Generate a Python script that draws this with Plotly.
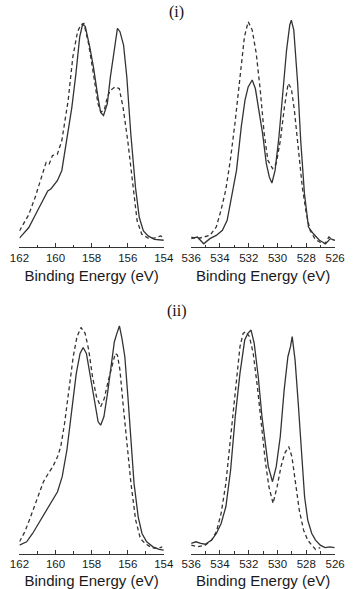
import plotly.graph_objects as go

# ---------- Data (normalized intensity, 0-100) ----------
# Panel (i) – Y 3d region
y3d_i_solid_E = [162.0, 161.48, 161.0, 160.43, 160.26, 159.9, 159.65, 159.4, 159.1, 158.87, 158.66, 158.5,
                 158.35, 158.1, 157.9, 157.65, 157.5, 157.34, 157.13, 156.96, 156.78, 156.57, 156.43,
                 156.23, 156.05, 155.83, 155.57, 155.36, 155.13, 154.87, 154.52, 154.0]
y3d_i_solid_I = [3.8, 8.4, 15.6, 24.2, 25.0, 28.6, 33.0, 45.9, 60.0, 74.7, 90.6, 96.0,
                 95.0, 86.0, 77.6, 64.6, 58.0, 56.7, 61.8, 73.3, 83.4, 94.2, 92.8,
                 87.0, 73.3, 48.8, 25.7, 12.7, 6.9, 4.8, 3.3, 2.9]
y3d_i_dash_E = [162.0, 161.48, 161.13, 160.78, 160.52, 160.35, 160.17, 159.9, 159.65, 159.3, 159.04, 158.78,
                158.6, 158.43, 158.17, 157.9, 157.65, 157.48, 157.3, 157.13, 156.96, 156.7, 156.47,
                156.26, 156.0, 155.74, 155.48, 155.22, 154.87, 154.52, 154.17, 154.0]
y3d_i_dash_I = [6.9, 14.0, 21.4, 30.0, 36.5, 35.8, 39.4, 40.0, 45.9, 63.2, 82.0, 92.8,
                95.7, 96.4, 87.7, 74.7, 61.8, 58.2, 58.9, 64.6, 67.5, 69.0, 68.3,
                60.3, 45.9, 28.6, 11.3, 5.5, 3.8, 3.8, 4.8, 3.8]

# Panel (i) – O 1s region
o1s_i_solid_E = [536.0, 535.57, 535.13, 534.7, 534.26, 533.83, 533.5, 533.17, 532.85, 532.52, 532.26, 532.04,
                 531.76, 531.54, 531.33, 531.04, 530.78, 530.57, 530.39, 530.17, 529.9, 529.59, 529.37,
                 529.15, 529.04, 528.87, 528.6, 528.39, 528.13, 527.85, 527.52, 527.09, 526.65, 526.33, 526.0]
o1s_i_solid_I = [3.6, 4.3, 1.4, 3.6, 5.0, 7.2, 11.5, 21.6, 33.0, 51.8, 63.3, 69.0,
                 72.0, 68.3, 60.4, 49.0, 36.0, 30.2, 27.6, 33.0, 47.5, 67.6, 85.0,
                 95.7, 97.8, 93.5, 70.5, 46.0, 23.0, 8.6, 5.8, 2.9, 1.4, 3.6, 2.9]
o1s_i_dash_E = [536.0, 535.57, 535.13, 534.7, 534.26, 533.93, 533.6, 533.28, 532.96, 532.63, 532.3, 532.04,
                531.76, 531.48, 531.2, 530.93, 530.67, 530.35, 530.09, 529.8, 529.52, 529.26, 529.04,
                528.83, 528.57, 528.28, 528.0, 527.74, 527.41, 527.09, 526.7, 526.43, 526.1]
o1s_i_dash_I = [4.3, 3.6, 4.3, 5.0, 8.6, 15.8, 24.5, 37.4, 53.2, 73.4, 90.6, 97.1,
                93.5, 83.5, 67.6, 49.0, 37.4, 33.8, 36.0, 46.0, 60.4, 70.5, 68.3,
                59.0, 43.2, 25.9, 14.4, 7.2, 3.6, 2.2, 1.4, 4.3, 2.9]

# Panel (ii) – Y 3d region
y3d_ii_solid_E = [162.0, 161.6, 161.27, 160.93, 160.58, 160.23, 159.89, 159.63, 159.37, 159.1, 158.85, 158.64,
                  158.47, 158.29, 158.07, 157.84, 157.64, 157.5, 157.32, 157.12, 156.91, 156.74, 156.6,
                  156.46, 156.32, 156.16, 155.99, 155.82, 155.65, 155.42, 155.21, 154.95, 154.6, 154.26, 154.0]
y3d_ii_solid_I = [3.5, 4.9, 8.4, 12.6, 17.5, 21.3, 25.9, 32.2, 43.4, 60.1, 75.5, 83.9,
                  86.4, 83.9, 74.1, 62.9, 55.2, 53.8, 57.3, 67.1, 79.7, 88.8, 92.3,
                  95.4, 90.2, 82.5, 65.7, 46.2, 29.4, 15.4, 8.4, 4.9, 2.8, 1.7, 1.4]
y3d_ii_dash_E = [162.0, 161.7, 161.45, 161.19, 160.93, 160.67, 160.4, 160.15, 159.89, 159.71, 159.5, 159.28,
                 159.02, 158.81, 158.59, 158.36, 158.16, 157.95, 157.73, 157.5, 157.3, 157.09, 156.91,
                 156.69, 156.57, 156.43, 156.26, 156.05, 155.82, 155.56, 155.3, 155.04, 154.69, 154.35, 154.09]
y3d_ii_dash_I = [4.9, 9.1, 14.0, 19.6, 25.2, 30.1, 33.6, 36.4, 40.6, 44.8, 54.5, 67.1,
                 82.5, 90.9, 94.8, 92.3, 85.3, 74.1, 65.7, 61.5, 65.0, 72.0, 76.9,
                 83.9, 83.2, 76.9, 62.9, 46.2, 29.4, 14.0, 6.3, 4.2, 2.5, 2.1, 2.8]

# Panel (ii) – O 1s region
o1s_ii_solid_E = [536.0, 535.67, 535.34, 535.02, 534.58, 534.25, 533.92, 533.59, 533.26, 532.94, 532.61, 532.28,
                  532.06, 531.84, 531.62, 531.34, 531.08, 530.86, 530.64, 530.35, 530.09, 529.81, 529.54,
                  529.28, 529.1, 528.98, 528.78, 528.56, 528.34, 528.12, 527.9, 527.62, 527.36, 527.03,
                  526.7, 526.37, 526.04]
o1s_ii_solid_I = [4.2, 4.9, 4.2, 3.9, 5.6, 8.4, 12.6, 19.6, 35.0, 57.3, 75.5, 89.5,
                  92.3, 93.7, 88.1, 74.1, 57.3, 46.2, 36.4, 30.1, 36.4, 49.0, 68.5,
                  82.5, 86.7, 90.9, 81.1, 62.9, 43.4, 23.8, 14.0, 8.4, 5.6, 3.5,
                  2.5, 2.8, 2.5]
o1s_ii_dash_E = [536.0, 535.56, 535.02, 534.58, 534.25, 533.92, 533.59, 533.26, 532.94, 532.61, 532.39, 532.21,
                 531.95, 531.69, 531.4, 531.12, 530.86, 530.6, 530.31, 530.03, 529.76, 529.5, 529.22,
                 529.0, 528.78, 528.49, 528.19, 527.9, 527.62, 527.36, 527.03]
o1s_ii_dash_I = [3.5, 2.8, 3.5, 5.6, 9.1, 16.8, 29.4, 49.0, 69.9, 86.7, 92.3, 93.0,
                 90.9, 83.9, 69.9, 53.1, 39.2, 28.0, 21.0, 28.0, 36.4, 42.0, 44.8,
                 40.6, 30.8, 18.2, 9.8, 5.6, 3.5, 1.7, 2.5]

y3d_ticks = [162, 160, 158, 156, 154]
o1s_ticks = [536, 534, 532, 530, 528, 526]
x_title = "Binding Energy (eV)"
panel_labels = ["(i)", "(ii)"]

# ---------- Figure ----------
W, H = 355, 589
fig = go.Figure()

line_col = "#333333"
solid = dict(color=line_col, width=1.3)
dashed = dict(color=line_col, width=1.3, dash="4px,3px")

panels = [
    ("x", "y", y3d_i_solid_E, y3d_i_solid_I, y3d_i_dash_E, y3d_i_dash_I),
    ("x2", "y2", o1s_i_solid_E, o1s_i_solid_I, o1s_i_dash_E, o1s_i_dash_I),
    ("x3", "y3", y3d_ii_solid_E, y3d_ii_solid_I, y3d_ii_dash_E, y3d_ii_dash_I),
    ("x4", "y4", o1s_ii_solid_E, o1s_ii_solid_I, o1s_ii_dash_E, o1s_ii_dash_I),
]
for xa, ya, sE, sI, dE, dI in panels:
    fig.add_trace(go.Scatter(x=dE, y=dI, mode="lines", line=dashed, xaxis=xa, yaxis=ya,
                             showlegend=False, hoverinfo="skip"))
    fig.add_trace(go.Scatter(x=sE, y=sI, mode="lines", line=solid, xaxis=xa, yaxis=ya,
                             showlegend=False, hoverinfo="skip"))

def px_x(p):
    return p / W

def px_y(p):
    return 1 - p / H

dom_left = [px_x(10), px_x(163)]
dom_right = [px_x(192), px_x(344.5)]
dom_top = [px_y(247), px_y(15)]
dom_bot = [px_y(553.5), px_y(315)]

tick_font = dict(family="Liberation Sans, Arial, sans-serif", size=11.5, color="#1a1a1a")
title_font = dict(family="Liberation Sans, Arial, sans-serif", size=15, color="#1a1a1a")

def xaxis(dom, rng, ticks, anchor):
    return dict(domain=dom, range=rng, anchor=anchor, showline=True, linecolor="#333", linewidth=1,
                ticks="inside", ticklen=4, tickwidth=1, tickcolor="#333",
                tickvals=ticks, ticktext=[str(t) for t in ticks], tickfont=tick_font,
                ticklabeloverflow="allow",
                minor=dict(ticks="inside", ticklen=2.5, tickwidth=1, tickcolor="#333", dtick=1, tick0=0),
                showgrid=False, zeroline=False, fixedrange=True,
                title=dict(text=x_title, font=title_font, standoff=7))

def yaxis(dom, anchor):
    return dict(domain=dom, range=[0, 100], anchor=anchor, visible=False, showgrid=False, zeroline=False,
                fixedrange=True)

label_font = dict(family="Liberation Serif, Times New Roman, serif", size=16, color="#111")

fig.update_layout(
    width=W, height=H,
    margin=dict(l=0, r=0, t=0, b=0),
    paper_bgcolor="white", plot_bgcolor="white",
    xaxis=xaxis(dom_left, [162, 154], y3d_ticks, "y"),
    yaxis=yaxis(dom_top, "x"),
    xaxis2=xaxis(dom_right, [536, 526], o1s_ticks, "y2"),
    yaxis2=yaxis(dom_top, "x2"),
    xaxis3=xaxis(dom_left, [162, 154], y3d_ticks, "y3"),
    yaxis3=yaxis(dom_bot, "x3"),
    xaxis4=xaxis(dom_right, [536, 526], o1s_ticks, "y4"),
    yaxis4=yaxis(dom_bot, "x4"),
    annotations=[
        dict(text=panel_labels[0], x=px_x(176), y=px_y(12), xref="paper", yref="paper",
             showarrow=False, font=label_font, xanchor="center", yanchor="middle"),
        dict(text=panel_labels[1], x=px_x(177), y=px_y(311), xref="paper", yref="paper",
             showarrow=False, font=label_font, xanchor="center", yanchor="middle"),
    ],
)

fig.write_html("out.html", config={"displayModeBar": False, "staticPlot": True},
               post_script="document.body.style.margin='0';document.body.style.overflow='hidden';")
